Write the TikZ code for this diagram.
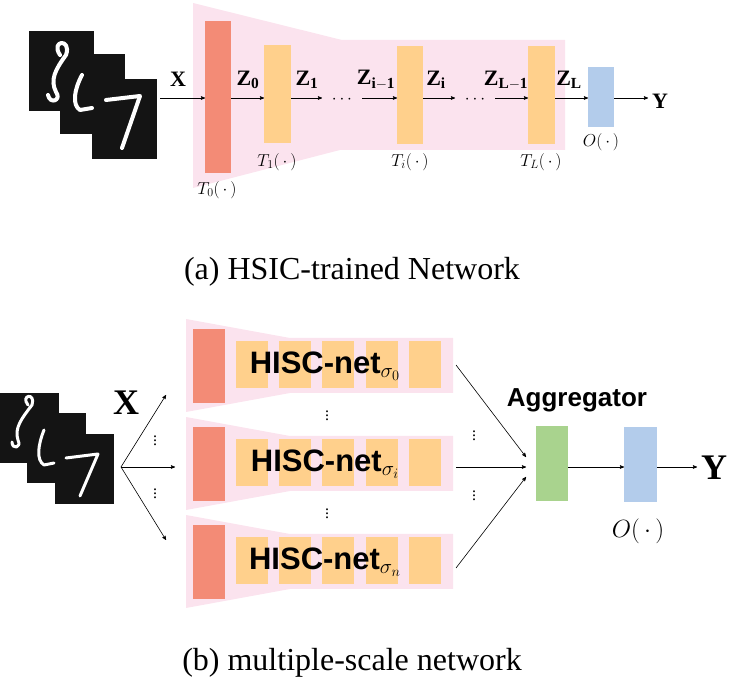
\documentclass[tikz,border=0pt]{standalone}
\usepackage{fontspec}
\setmainfont{Liberation Serif}
\newfontfamily\sansbold{Liberation Sans}[BoldFont={Liberation Sans Bold}]
\usetikzlibrary{arrows}
\definecolor{pinkbg}{HTML}{FBE3EE}
\definecolor{redbar}{HTML}{F38B76}
\definecolor{orangebar}{HTML}{FFD08C}
\definecolor{bluebar}{HTML}{B3CCEB}
\definecolor{greenbar}{HTML}{A9D38E}
\definecolor{digitbg}{HTML}{141414}

\begin{document}
\begin{tikzpicture}[x=1pt,y=-1pt,>=stealth',
                    bar/.style={draw=none,inner sep=0pt,anchor=north west},
                    lbl/.style={inner sep=0pt},
                    link/.style={->,semithick},
                    digit/.style={white,line width=4pt,line cap=round,line join=round}]
  \useasboundingbox (0,0) rectangle (729,684);

  % (a) HSIC-trained network
  \fill[pinkbg] (193,3) -- (342,40) -- (565,40) -- (565,150) -- (340,150) -- (193,188) -- cycle;
  \foreach \dx/\dy in {29/31,60/54,92/79} {
    \fill[digitbg] (\dx,\dy) rectangle ++(65,80);
  }
  \draw[digit] (60,55) .. controls (50,40) and (72,38) .. (66,55) .. controls (55,70) and (50,80) .. (56,92) .. controls (62,100) and (50,105) .. (48,95);
  \draw[digit] (82,75) .. controls (74,90) and (72,105) .. (80,110) -- (92,108);
  \draw[digit] (106,100) -- (140,96) -- (122,148);
  \node[bar,fill=redbar,minimum width=26,minimum height=152]    (T0) at (205,21) {};
  \node[bar,fill=orangebar,minimum width=27,minimum height=98] (T1) at (264,45) {};
  \node[bar,fill=orangebar,minimum width=26,minimum height=98] (Ti) at (397,46) {};
  \node[bar,fill=orangebar,minimum width=27,minimum height=98] (TL) at (528,46) {};
  \node[bar,fill=bluebar,minimum width=26,minimum height=60]    (O)  at (588,67) {};
  \coordinate (in)   at (160,98);
  \coordinate (d1s)  at (322,98);
  \coordinate (d1e)  at (362,98);
  \coordinate (d2s)  at (455,98);
  \coordinate (d2e)  at (495,98);
  \coordinate (out)  at (648,98);
  \draw[link] (in) -- (T0.west|-in);
  \draw[link] (T0.east|-in) -- (T1.west|-in);
  \draw[link] (T1.east|-in) -- (d1s);
  \draw[link] (d1e) -- (Ti.west|-in);
  \draw[link] (Ti.east|-in) -- (d2s);
  \draw[link] (d2e) -- (TL.west|-in);
  \draw[link] (TL.east|-in) -- (O.west|-in);
  \draw[link] (O.east|-in) -- (out);
  \node[lbl,font=\fontsize{18}{18}\selectfont] at (342,100) {$\cdots$};
  \node[lbl,font=\fontsize{18}{18}\selectfont] at (475,100) {$\cdots$};
  \node[lbl,font=\fontsize{22}{22}\selectfont\bfseries] (X)  at (178,79) {X};
  \node[lbl,font=\fontsize{22}{22}\selectfont\bfseries] (Y)  at (660,101) {Y};
  \foreach \x/\z in {248/0,307/1,376/{i-1},436/i,506/{L-1},569/L}
    \node[lbl,font=\fontsize{22}{22}\selectfont] at (\x,80) {$\mathbf{Z_{\z}}$};
  \node[lbl,font=\fontsize{17}{17}\selectfont] at (217,190) {$T_0(\,\cdot\,)$};
  \node[lbl,font=\fontsize{17}{17}\selectfont] at (277,162) {$T_1(\,\cdot\,)$};
  \node[lbl,font=\fontsize{17}{17}\selectfont] at (410,162) {$T_i(\,\cdot\,)$};
  \node[lbl,font=\fontsize{17}{17}\selectfont] at (541,162) {$T_L(\,\cdot\,)$};
  \node[lbl,font=\fontsize{17}{17}\selectfont] at (601,142) {$O(\,\cdot\,)$};
  \node[lbl,font=\fontsize{32}{32}\selectfont] (capa) at (352,272) {(a) HSIC-trained Network};

  % (b) multiple-scale network
  \foreach \dx/\dy in {0/393,27/413,55/434} {
    \fill[digitbg] (\dx,\dy) rectangle ++(59,70);
  }
  \draw[digit,line width=3pt] (28,405) .. controls (20,395) and (36,392) .. (32,405) .. controls (22,418) and (14,428) .. (18,440) .. controls (22,448) and (12,450) .. (12,442);
  \draw[digit,line width=3pt] (44,430) .. controls (38,445) and (36,460) .. (44,465) -- (54,463);
  \draw[digit,line width=3pt] (66,458) -- (98,454) -- (80,496);
  \foreach \n/\off/\s in {0/0/0,i/98/i,n/196/n} {
    \begin{scope}[yshift=-\off]
      \fill[pinkbg] (186,319) -- (290,338) -- (453,338) -- (453,393) -- (290,393) -- (186,412) -- cycle;
      \node[bar,fill=redbar,minimum width=32,minimum height=74] (R\n) at (193,329) {};
      \foreach \bx in {236,279,322,366,409}
        \fill[orangebar] (\bx,341) rectangle ++(32,47);
      \node[lbl,font=\fontsize{31}{31}\sansbold\bfseries] (H\n) at (325,366) {HISC-net$_{\sigma_{\s}}$};
    \end{scope}
  }
  \foreach \y in {413,511} \node[lbl,font=\fontsize{16}{16}\selectfont] at (327,\y) {$\vdots$};
  \foreach \y in {438,491} \node[lbl,font=\fontsize{16}{16}\selectfont] at (155,\y) {$\vdots$};
  \foreach \y in {433,493} \node[lbl,font=\fontsize{16}{16}\selectfont] at (474,\y) {$\vdots$};
  \coordinate (src) at (121,467);
  \coordinate (a0) at (166,395);
  \coordinate (ai) at (175,467);
  \coordinate (an) at (166,540);
  \draw[link] (src) -- (a0);
  \draw[link] (src) -- (ai);
  \draw[link] (src) -- (an);
  \node[bar,fill=greenbar,minimum width=32,minimum height=75] (G)  at (536,426) {};
  \node[bar,fill=bluebar,minimum width=33,minimum height=75]  (O2) at (624,427) {};
  \coordinate (o0) at (456,365);
  \coordinate (oi) at (456,467);
  \coordinate (on) at (456,568);
  \coordinate (g0) at (526,457);
  \coordinate (gi) at (526,467);
  \coordinate (gn) at (526,477);
  \draw[link] (o0) -- (g0);
  \draw[link] (oi) -- (gi);
  \draw[link] (on) -- (gn);
  \draw[link] (G.east|-gi) -- (O2.west|-gi);
  \coordinate (out2) at (697,467);
  \draw[link] (O2.east|-gi) -- (out2);
  \node[lbl,font=\fontsize{36}{36}\selectfont\bfseries] (X2) at (126,403) {X};
  \node[lbl,font=\fontsize{36}{36}\selectfont\bfseries] (Y2) at (714,468) {Y};
  \node[lbl,font=\fontsize{26}{26}\sansbold\bfseries] (agg) at (577,400) {Aggregator};
  \node[lbl,font=\fontsize{42}{42}\selectfont] at (638,531) {$O(\,\cdot\,)$};
  \node[lbl,font=\fontsize{32}{32}\selectfont] (capb) at (352,663) {(b) multiple-scale network};
\end{tikzpicture}
\end{document}
